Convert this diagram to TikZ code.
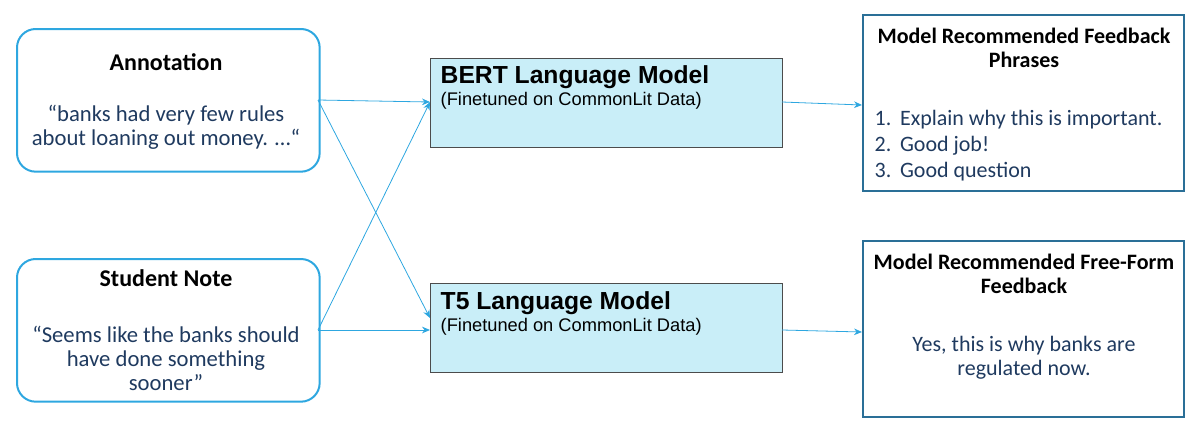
\documentclass[tikz,border=0pt]{standalone}
\usepackage{fontspec}
\setmainfont{Carlito}
\newfontfamily\arialf{Liberation Sans}
\usetikzlibrary{arrows.meta}
\definecolor{bl}{HTML}{2EA7E0}
\definecolor{navy}{HTML}{1F3A5F}
\definecolor{cy}{HTML}{C9EEF8}
\definecolor{steel}{HTML}{2A6F97}
\begin{document}
\begin{tikzpicture}[x=0.75pt,y=-0.75pt,
 inbox/.style={draw=bl,line width=1.5pt,rounded corners=14pt,minimum width=227pt,minimum height=107pt,anchor=north west},
 mbox/.style={draw=black!70,fill=cy,line width=0.8pt,minimum width=264pt,minimum height=67pt,anchor=north west},
 obox/.style={draw=steel,line width=1.5pt,minimum width=241pt,minimum height=132pt,anchor=north west},
 arr/.style={-{Stealth[length=6pt,width=5pt]},draw=bl,line width=0.6pt}]
\useasboundingbox (0,0) rectangle (1200,429);
\node[inbox] (ann) at (16,28) {};
\node[font=\fontsize{18}{20}\selectfont\bfseries] at (166,62) {Annotation};
\node[font=\fontsize{17}{18}\selectfont,text=navy,align=center] at (166,127) {“banks had very few rules\\about loaning out money. …“};
\node[inbox] (stu) at (16,258) {};
\node[font=\fontsize{18}{20}\selectfont\bfseries] at (166,278) {Student Note};
\node[font=\fontsize{17}{18}\selectfont,text=navy,align=center] at (166,358) {“Seems like the banks should\\have done something\\sooner”};
\node[mbox] (bert) at (430,58) {};
\node[font=\arialf\fontsize{18.5}{20}\selectfont\bfseries,anchor=west] at (436,77) {BERT Language Model};
\node[font=\arialf\fontsize{13.7}{16}\selectfont,anchor=west] at (436,101) {(Finetuned on CommonLit Data)};
\node[mbox] (t5) at (430,283) {};
\node[font=\arialf\fontsize{18.5}{20}\selectfont\bfseries,anchor=west] at (436,303) {T5 Language Model};
\node[font=\arialf\fontsize{13.7}{16}\selectfont,anchor=west] at (436,327) {(Finetuned on CommonLit Data)};
\node[obox] (ph) at (862,14) {};
\node[font=\fontsize{16.5}{18}\selectfont\bfseries,align=center] at (1024,48) {Model Recommended Feedback\\Phrases};
\node[font=\fontsize{16.5}{19.5}\selectfont,text=navy,align=left,anchor=north west] at (870,106) {1.\ \,Explain why this is important.\\2.\ \,Good job!\\3.\ \,Good question};
\node[obox] (ff) at (862,240) {};
\node[font=\fontsize{16.5}{18}\selectfont\bfseries,align=center] at (1024,274) {Model Recommended Free-Form\\Feedback};
\node[font=\fontsize{16.5}{18}\selectfont,text=navy,align=center] at (1024,358) {Yes, this is why banks are\\regulated now.};
\coordinate (a1) at (318,100); \coordinate (s1) at (318,330);
\coordinate (b1) at (430,102); \coordinate (t1) at (430,318); \coordinate (t2) at (430,330);
\draw[arr] (a1) -- (b1);
\draw[arr] (a1) -- (t1);
\draw[arr] (s1) -- (b1);
\draw[arr] (s1) -- (t2);
\coordinate (b2) at (782,102); \coordinate (p1) at (862,105);
\coordinate (t3) at (782,330); \coordinate (f1) at (862,332);
\draw[arr] (b2) -- (p1);
\draw[arr] (t3) -- (f1);
\end{tikzpicture}
\end{document}
